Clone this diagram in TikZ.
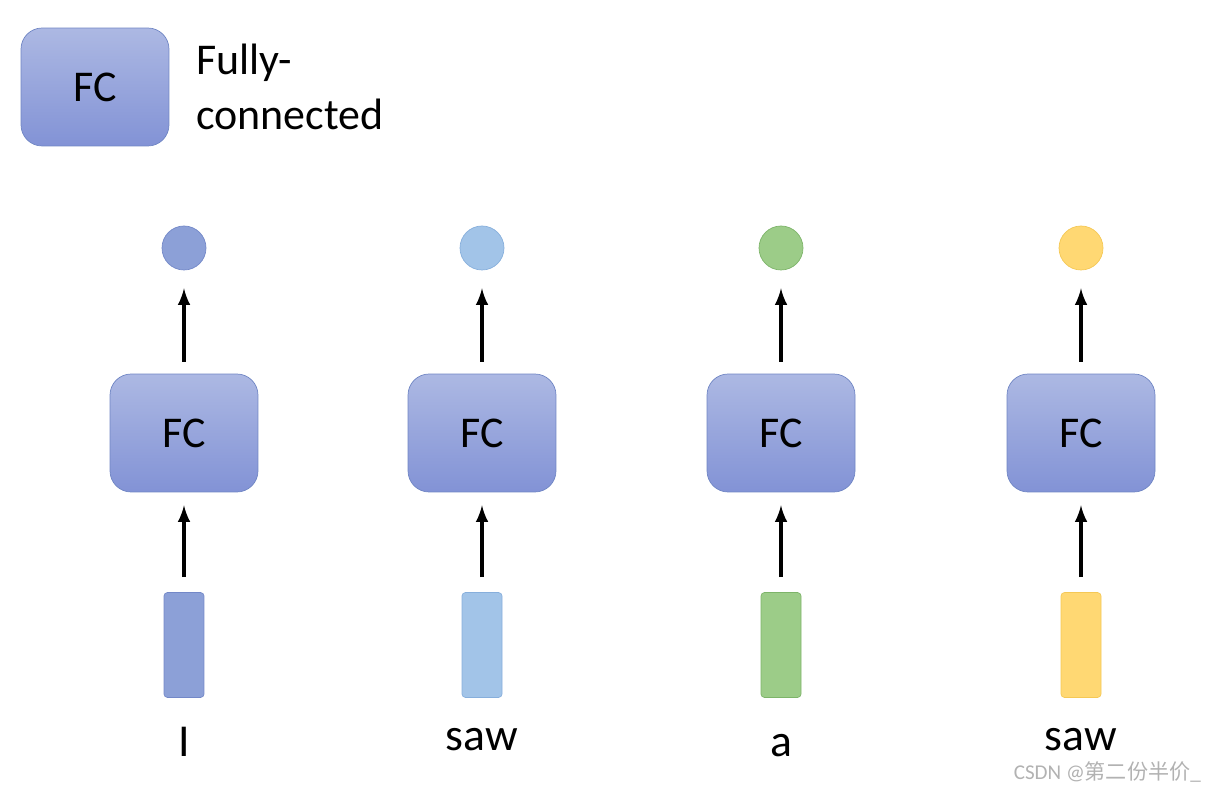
\documentclass[tikz,border=0pt]{standalone}
\usepackage{fontspec}
\setmainfont{Carlito}
\newfontfamily\cjk{Noto Sans CJK SC}
\usetikzlibrary{positioning}
\definecolor{fcfill}{RGB}{158,172,222}
\definecolor{fcdraw}{RGB}{112,134,196}
\definecolor{tokblue}{RGB}{140,160,215}
\definecolor{tokblued}{RGB}{115,136,200}
\definecolor{toklight}{RGB}{162,196,232}
\definecolor{toklightd}{RGB}{135,175,220}
\definecolor{tokgreen}{RGB}{156,204,136}
\definecolor{tokgreend}{RGB}{125,180,105}
\definecolor{tokyellow}{RGB}{255,216,115}
\definecolor{tokyellowd}{RGB}{245,200,85}
\tikzset{
  fc/.style={rounded corners=12pt, draw=fcdraw, top color=fcfill!85!white, bottom color=fcfill!90!blue!60!fcdraw,
    minimum width=2.96cm, minimum height=2.36cm, font=\fontsize{25}{28}\selectfont},
  vec/.style={rounded corners=2pt, minimum width=0.8cm, minimum height=2.1cm},
  outdot/.style={circle, minimum size=0.88cm, inner sep=0pt},
  word/.style={font=\fontsize{26}{28}\selectfont},
  up/.style={-latex, line width=2.2pt}
}
\begin{document}
\begin{tikzpicture}[x=0.02cm,y=-0.02cm]
\useasboundingbox (0,0) rectangle (1209,786);
% legend
\node[fc] (legend) at (95,87) {FC};
\node[anchor=west, align=left, font=\fontsize{25}{31}\selectfont] (legendtext) at (190,87) {Fully-\\connected};
% columns
\foreach \i/\x/\c/\w/\wy in {1/184/tokblue/I/742, 2/482/toklight/saw/740, 3/781/tokgreen/a/746, 4/1081/tokyellow/saw/740} {
  \node[fc] (fc\i) at (\x,433) {FC};
  \node[vec, fill=\c, draw=\c d] (vec\i) at (\x,645) {};
  \node[outdot, fill=\c, draw=\c d] (dot\i) at (\x,248) {};
  \node[word] (word\i) at (\x,\wy) {\w};
  \draw[up] ([yshift=0.3cm]vec\i.north) -- ([yshift=-0.26cm]fc\i.south);
  \draw[up] ([yshift=0.24cm]fc\i.north) -- ([yshift=-0.36cm]dot\i.south);
}
\node[anchor=east, text=gray!60, font=\fontsize{12}{14}\selectfont] (mark) at (1207,772) {CSDN @{\cjk 第二份半价}\_};
\end{tikzpicture}
\end{document}
